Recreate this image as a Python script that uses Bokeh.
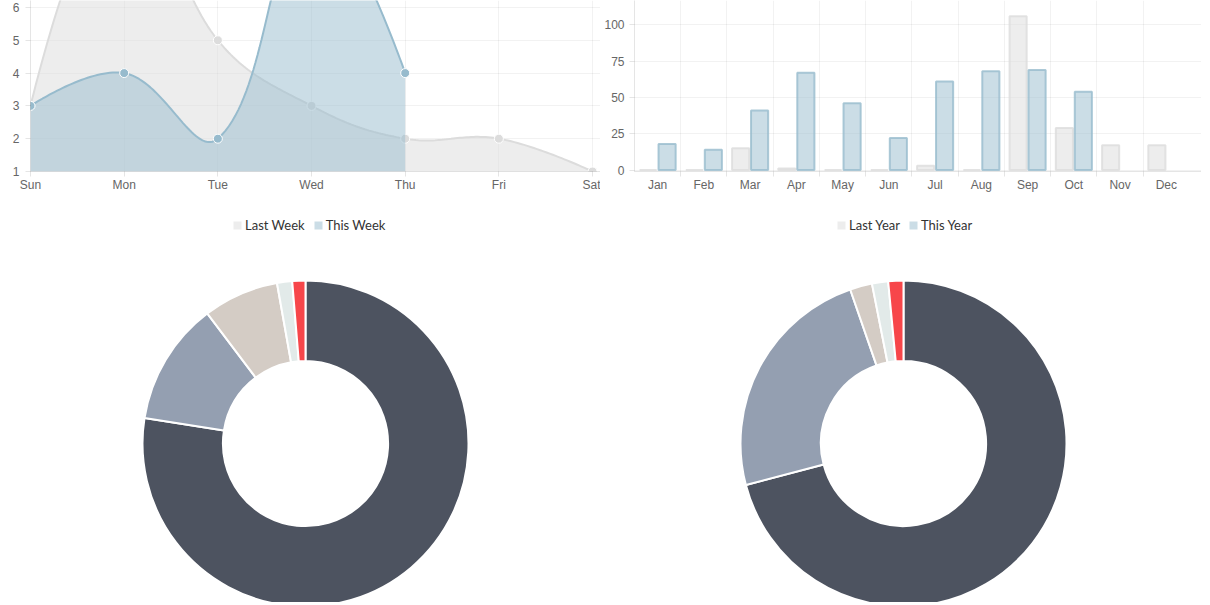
import math
import numpy as np
from bokeh.plotting import figure
from bokeh.models import (Range1d, FixedTicker, Legend, LegendItem)
from bokeh.layouts import column, row
from bokeh.embed import file_html
from bokeh.resources import INLINE

# ---------------- data ----------------
days = ["Sun", "Mon", "Tue", "Wed", "Thu", "Fri", "Sat"]
last_week = [3, 10, 5, 3, 2, 2, 1]
this_week = [3, 4, 2, 9, 4]          # Fri, Sat missing

months = ["Jan", "Feb", "Mar", "Apr", "May", "Jun",
          "Jul", "Aug", "Sep", "Oct", "Nov", "Dec"]
last_year = [0, 0, 15, 1, 0, 0, 3, 0, 106, 29, 17, 17]
this_year = [18, 14, 41, 67, 46, 22, 61, 68, 69, 54, None, None]

week_series = ["Last Week", "This Week"]
year_series = ["Last Year", "This Year"]

donut_left = [77.5, 12.2, 7.5, 1.5, 1.3]
donut_right = [70.9, 23.8, 2.2, 1.6, 1.5]
donut_colors = ["#4D5360", "#949FB1", "#D4CCC5", "#E2EAE9", "#F7464A"]

# ---------------- style ----------------
TICK_FONT = "Liberation Sans"
LEGEND_FONT = "Lato"
GREY = "#dcdcdc"
BLUE = "#97bbcd"
PX_PER_DAY = 93.67    # horizontal pixels per category on the line chart
PX_PER_UNIT = 32.8    # vertical pixels per unit on the line chart
TOP_H = 205
PAGE_H = 602
OFF = -99999          # proxy glyphs for legend swatches sit far outside the view


def spline(xs, ys, base, tension=0.4, n=40):
    """Chart.js v1 style bezier through the points (pixel-space tension)."""
    px = np.asarray(xs, float) * PX_PER_DAY
    py = -np.asarray(ys, float) * PX_PER_UNIT
    bottom = -base * PX_PER_UNIT
    m = len(px)
    inner, outer = [], []
    for i in range(m):
        x0, y0 = (px[i - 1], py[i - 1]) if i > 0 else (px[i], py[i])
        x2, y2 = (px[i + 1], py[i + 1]) if i < m - 1 else (px[i], py[i])
        t = tension if 0 < i < m - 1 else 0.0
        d01 = math.hypot(px[i] - x0, py[i] - y0)
        d12 = math.hypot(x2 - px[i], y2 - py[i])
        s = d01 + d12
        fa = t * d01 / s if s else 0.0
        fb = t * d12 / s if s else 0.0
        ix, iy = px[i] - fa * (x2 - x0), py[i] - fa * (y2 - y0)
        ox, oy = px[i] + fb * (x2 - x0), py[i] + fb * (y2 - y0)
        iy = min(iy, bottom)
        oy = min(oy, bottom)
        inner.append((ix, iy))
        outer.append((ox, oy))
    cx, cy = [px[0]], [py[0]]
    tt = np.linspace(0, 1, n)[1:]
    for i in range(1, m):
        p0 = np.array([px[i - 1], py[i - 1]])
        p1 = np.array(outer[i - 1])
        p2 = np.array(inner[i])
        p3 = np.array([px[i], py[i]])
        for t in tt:
            b = ((1 - t) ** 3) * p0 + 3 * ((1 - t) ** 2) * t * p1 \
                + 3 * (1 - t) * t * t * p2 + t ** 3 * p3
            cx.append(b[0])
            cy.append(b[1])
    return np.array(cx) / PX_PER_DAY, -np.array(cy) / PX_PER_UNIT


def style_axes(p, y_standoff):
    for ax in (p.xaxis[0], p.yaxis[0]):
        ax.axis_line_color = "black"
        ax.axis_line_alpha = 0.1
        ax.major_tick_line_color = "black"
        ax.major_tick_line_alpha = 0.1
        ax.major_tick_in = 0
        ax.major_tick_out = 5
        ax.minor_tick_line_color = None
        ax.major_label_text_font = TICK_FONT
        ax.major_label_text_font_size = "12px"
        ax.major_label_text_color = "#666666"
    p.xaxis[0].major_label_standoff = 1
    p.yaxis[0].major_label_standoff = y_standoff
    for g in (p.xgrid[0], p.ygrid[0]):
        g.grid_line_color = "black"
        g.grid_line_alpha = 0.05
    p.outline_line_color = None


def make_legend(items, loc):
    return Legend(items=items, orientation="horizontal", location=loc,
                  glyph_width=10, glyph_height=10, label_standoff=3,
                  label_height=14, spacing=8, padding=2, margin=0,
                  border_line_color=None, background_fill_alpha=0,
                  label_text_font=LEGEND_FONT, label_text_font_size="13px",
                  label_text_color="#333333")


# ---------------- line chart ----------------
BASE = 1
p1 = figure(width=600, height=TOP_H, output_backend="svg", toolbar_location=None,
            x_range=Range1d(0, 6.085), y_range=Range1d(BASE, 6.213),
            min_border_left=30, min_border_right=0, min_border_top=0,
            min_border_bottom=TOP_H - 171)
style_axes(p1, 6)
p1.xaxis[0].ticker = FixedTicker(ticks=list(range(len(days))))
p1.xaxis[0].major_label_overrides = {i: d for i, d in enumerate(days)}
p1.yaxis[0].ticker = FixedTicker(ticks=[1, 2, 3, 4, 5, 6])

for vals, col in ((last_week, GREY), (this_week, BLUE)):
    xs = list(range(len(vals)))
    cx, cy = spline(xs, vals, BASE)
    px_ = np.concatenate([cx, [xs[-1], xs[0]]])
    py_ = np.concatenate([cy, [BASE, BASE]])
    p1.patch(px_, py_, fill_color=col, fill_alpha=0.5, line_color=None)
    p1.line(cx, cy, line_color=col, line_width=2)
    p1.scatter(xs, vals, size=9, fill_color=col, line_color="white",
               line_width=1)

# ---------------- bar chart ----------------
p2 = figure(width=601, height=TOP_H, output_backend="svg", toolbar_location=None,
            x_range=Range1d(-0.5, 11.76), y_range=Range1d(-1, 116.8),
            min_border_left=34, min_border_right=0, min_border_top=0,
            min_border_bottom=TOP_H - 173)
style_axes(p2, 5)
idx = np.arange(len(months))
p2.xaxis[0].ticker = FixedTicker(ticks=list(idx),
                                 minor_ticks=[i + 0.5 for i in range(len(months) - 1)])
p2.xaxis[0].major_label_overrides = {int(i): m for i, m in enumerate(months)}
p2.xaxis[0].major_tick_line_color = None
p2.xaxis[0].minor_tick_line_color = "black"
p2.xaxis[0].minor_tick_line_alpha = 0.1
p2.xaxis[0].minor_tick_in = 0
p2.xaxis[0].minor_tick_out = 5
p2.xgrid[0].grid_line_color = None
p2.xgrid[0].minor_grid_line_color = "black"
p2.xgrid[0].minor_grid_line_alpha = 0.05
p2.yaxis[0].ticker = FixedTicker(ticks=[0, 25, 50, 75, 100])

ly = np.array(last_year, float)
ty = np.array([np.nan if v is None else v for v in this_year], float)
p2.vbar(x=idx - 0.205, top=ly, bottom=0, width=0.37,
        fill_color=GREY, fill_alpha=0.5, line_color=GREY,
        line_alpha=0.8, line_width=2)
p2.vbar(x=idx + 0.205, top=ty, bottom=0, width=0.37,
        fill_color=BLUE, fill_alpha=0.5, line_color=BLUE,
        line_alpha=0.8, line_width=2)


# ---------------- doughnuts (with the legends of the charts above) ----------------
def donut(values, width, x0, legend_names, legend_x):
    h = PAGE_H - TOP_H
    top = 443 - TOP_H
    p = figure(width=width, height=h, output_backend="svg",
               toolbar_location=None, x_range=Range1d(-x0, width - x0),
               y_range=Range1d(top - h, top), min_border=0)
    p.axis.visible = False
    p.grid.visible = False
    p.outline_line_color = None
    v = np.asarray(values, float)
    frac = np.cumsum(v) / v.sum()
    before = np.concatenate([[0.0], frac[:-1]])
    start = math.pi / 2 - 2 * math.pi * before
    end = math.pi / 2 - 2 * math.pi * frac
    p.annular_wedge(x=0, y=0, inner_radius=82.6, outer_radius=163,
                    start_angle=start, end_angle=end, direction="clock",
                    fill_color=donut_colors, line_color="white", line_width=2)
    items = []
    for name, col in zip(legend_names, (GREY, BLUE)):
        r = p.patch(x=[OFF, OFF + 1, OFF + 1], y=[OFF, OFF, OFF + 1],
                    fill_color=col, fill_alpha=0.5, line_color=None)
        items.append(LegendItem(label=name, renderers=[r]))
    p.add_layout(make_legend(items, (legend_x, h - (233 - TOP_H))))
    return p


d1 = donut(donut_left, 605, 305, week_series, 232)
d2 = donut(donut_right, 600, 298, year_series, 836 - 605)

layout = column(row(p1, p2), row(d1, d2))
open("out.html", "w").write(file_html(layout, INLINE))
